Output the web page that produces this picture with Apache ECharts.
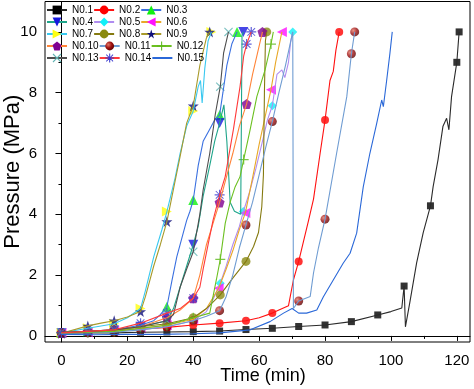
<!DOCTYPE html>
<html><head><meta charset="utf-8">
<script src="https://cdn.jsdelivr.net/npm/echarts@6/dist/echarts.min.js"></script>
<style>html,body{margin:0;padding:0;background:#fff}#c{width:474px;height:389px}</style>
</head><body><div id="c"></div>
<script>
// [time (min), pressure (MPa)]
const names = ['N0.1','N0.2','N0.3','N0.4','N0.5','N0.6','N0.7','N0.8','N0.9','N0.10','N0.11','N0.12','N0.13','N0.14','N0.15'];
const xTicks = [0,20,40,60,80,100,120];
const xMinor = [10,30,50,70,90,110];
const yTicks = [0,2,4,6,8,10];
const yMinor = [1,3,5,7,9];

const n1Mark = [[0,0.08],[8,0.1],[16,0.1],[24,0.12],[32,0.13],[40,0.14],[48,0.16],[56,0.21],[64,0.25],[72,0.31],[80,0.36],[88,0.47],[96,0.69],[104,1.64],[112,4.28],[120,9.0],[120.7,10]];
const n1Line = [[100,0.8],[103.3,0.92],[104.4,0.3],[105.7,1.08],[107.8,2.4],[109.8,3.4],[112.8,4.9],[114.3,5.8],[115.8,6.9],[116.9,7.16],[117.6,6.78],[118.4,7.87]];
const n2Mark = [[0,0.12],[8,0.15],[16,0.18],[24,0.22],[32,0.28],[40,0.36],[48,0.42],[56,0.5],[64,0.75],[72,2.45],[80,7.1],[84.3,10]];
const n2Line = [[60,0.6],[66,0.85],[68.9,0.99],[70.4,1.84],[75,3.8],[76.5,4.5],[78.5,6.0],[81.5,8.4],[82.5,8.7],[83.3,9.4]];
const n3Mark = [[0,0.1],[8,0.15],[16,0.2],[24,0.35],[32,0.96],[40,4.47],[48,7.27],[53.3,10]];
const n3Line = [[28,0.5],[30,0.7],[33.5,1.8],[35,2.6],[36.5,3.2],[38,3.8],[39,4.1],[41.5,5.6],[43,6.4],[45,6.8],[46.5,7.1],[49,8.0],[50.2,8.9],[51.7,9.6]];
const n4Mark = [[0,0.1],[8,0.12],[16,0.18],[24,0.3],[32,0.5],[40,3.0],[48,7.0],[55.2,10]];
const n4Line = [[34,0.9],[36,1.6],[38,2.3],[41.5,3.6],[43,4.6],[45,5.6],[46.5,6.4],[49.3,7.6],[50.2,6.4],[51.2,4.4],[52.5,4.1],[54.4,4.0],[54.8,9.9]];
const n5Mark = [[0,0.1],[8,0.12],[16,0.15],[24,0.22],[32,0.3],[40,0.5],[48.2,1.73],[55.2,4.09],[64,7.57],[70.2,10]];
const n5Line = [[44,0.8],[46,1.2],[50,2.3],[52,3.0],[54,3.6],[57,4.7],[59,5.5],[61,6.4],[62.5,7.1],[65.4,8.6],[66.9,8.75],[67.8,8.5],[68.9,9.0],[69.6,9.7]];
const n6Mark = [[0,0.1],[8,0.12],[16,0.17],[24,0.25],[32,0.35],[40,0.55],[47.7,1.57],[55.8,4.04],[63.6,8.1],[66.9,10]];
const n6Line = [[44,0.9],[50,2.2],[52,2.8],[54,3.5],[58,5.2],[60,6.3],[62,7.3],[65,9.0]];
const n7Mark = [[0,0.1],[8,0.25],[16,0.4],[24,0.9],[32,4.09],[40,7.4],[45.5,10]];
const n7Line = [[20,0.6],[25.5,1.5],[28,2.6],[30.5,3.5],[34.5,5.2],[36,6.0],[38,6.9],[41.5,8.2],[42.2,8.4],[42.7,7.66],[43.5,8.8],[44.5,9.7]];
const n8Mark = [[0,0.1],[8,0.13],[16,0.2],[24,0.3],[32,0.4],[40,0.6],[48.2,1.35],[56,2.45],[62.3,10]];
const n8Line = [[44,0.9],[52,1.9],[58.3,2.94],[59.8,3.4],[60.8,4.25],[61.3,5.3],[61.6,8.0],[61.9,9.7]];
const n9Mark = [[0,0.09],[8,0.33],[16,0.5],[24,0.8],[32,3.76],[40,7.57],[45,10]];
const n9Line = [[12,0.42],[20,0.62],[25.5,1.3],[28,2.3],[30,3.0],[34.5,5.1],[36,5.9],[38,7.0],[42,8.9],[44,9.8]];
const n10Mark = [[0,0.1],[8,0.15],[16,0.2],[24,0.3],[32,0.6],[40,1.24],[48,4.39],[56.2,7.63],[61,10]];
const n10Line = [[36,0.85],[42,2.0],[44,3.0],[46,3.7],[50,5.2],[52,6.0],[54,6.9],[58,8.6],[59.5,9.3]];
const n11Mark = [[0,0.1],[8,0.1],[16,0.12],[24,0.2],[32,0.3],[40,0.5],[48,0.83],[56,3.65],[64,7.05],[72,1.15],[80,3.84],[88,9.28],[89,10]];
const n11Line = [[44,0.65],[50,1.3],[52,2.0],[54,2.9],[58,4.4],[60,5.3],[62,6.2],[66,8.0],[68,8.9],[70.2,10],[70.4,0.9],[75.5,1.3],[76.5,2.07],[78,2.9],[83.5,6.0],[86.6,7.87]];
const n12Mark = [[0,0.1],[8,0.12],[16,0.15],[24,0.25],[32,0.35],[40,0.6],[48.2,2.52],[55.3,5.8],[63.6,9.6]];
const n12Line = [[45,0.75],[47,1.84],[49.7,3.7],[51.2,4.4],[52.7,4.9],[54.2,5.24],[57.3,6.8],[59.3,7.87],[61.8,8.75],[64.3,10]];
const n13Mark = [[0,0.12],[8,0.15],[16,0.2],[24,0.3],[32,0.5],[40,2.77],[48.2,8.2],[50.7,10]];
const n13Line = [[34,0.7],[36,1.6],[38,2.2],[42,4.0],[43,4.8],[45,6.0],[46.7,7.3],[49.2,9.3]];
const n14Mark = [[0,0.1],[8,0.15],[16,0.2],[24,0.42],[32,0.75],[40,1.24],[48,4.64],[56.2,9.6],[57.6,10]];
const n14Line = [[36,0.9],[42,1.6],[43,2.2],[44.5,3.0],[46,3.8],[49.7,5.24],[52.2,6.8],[54.2,8.2],[55.3,9.2]];
const n15Mark = [];
const n15Line = [[0,0.05],[10,0.04],[20,0.05],[30,0.05],[40,0.07],[48,0.1],[57.3,0.2],[63.3,0.47],[67.4,0.75],[70,0.9],[72,0.75],[74.4,0.75],[77.5,0.85],[79.5,1.29],[85.5,2.39],[87.6,2.72],[89.6,3.38],[91.6,4.9],[93.6,6.0],[95.7,7.0],[97.2,7.76],[97.7,7.54],[98.7,8.4],[99.7,9.3],[100.4,10]];

const lines = [n1Line,n2Line,n3Line,n4Line,n5Line,n6Line,n7Line,n8Line,n9Line,n10Line,n11Line,n12Line,n13Line,n14Line,n15Line];
const marks = [n1Mark,n2Mark,n3Mark,n4Mark,n5Mark,n6Mark,n7Mark,n8Mark,n9Mark,n10Mark,n11Mark,n12Mark,n13Mark,n14Mark,n15Mark];

const STAR = 'path://M50,0 L61.8,35.1 L98.1,35.1 L68.8,56.7 L79.4,91 L50,70 L20.6,91 L31.2,56.7 L1.9,35.1 L38.2,35.1 Z';
const PENT = 'path://M50,0 L97.6,34.5 L79.4,90.5 L20.6,90.5 L2.4,34.5 Z';
const CROSS = 'path://M0,9 L9,0 L50,41 L91,0 L100,9 L59,50 L100,91 L91,100 L50,59 L9,100 L0,91 L41,50 Z';
const PLUS = 'path://M44,0 L56,0 L56,44 L100,44 L100,56 L56,56 L56,100 L44,100 L44,56 L0,56 L0,44 L44,44 Z';
const AST = 'path://M44,0 L56,0 L56,44 L100,44 L100,56 L56,56 L56,100 L44,100 L44,56 L0,56 L0,44 L44,44 Z M8,15 L15,8 L50,43 L85,8 L92,15 L57,50 L92,85 L85,92 L50,57 L15,92 L8,85 L43,50 Z';
const BALL = {type:'radial',x:0.35,y:0.35,r:0.75,colorStops:[{offset:0,color:'#e07a6a'},{offset:0.5,color:'#a01010'},{offset:1,color:'#500000'}]};

const lineColors = ['#2a2a2a','#ff1010','#3a70e0','#1fa58a','#b08cf0','#e8a828','#38c8f0','#857a10','#a89a2a','#ff8438','#6f9cd2','#6cc020','#4e4e4e','#ff3a3a','#2a68d8'];
const markColors = ['#000000','#ff0000','#10f010','#1818e0','#10f0f8','#ff10ff','#ffff10','#8a8a10','#10107a','#800090',BALL,'#5cb81c','#60b4b4','#3a3ad0','#2a68d8'];
const symbols = ['rect','circle','triangle','triangle','diamond','triangle','triangle','circle',STAR,PENT,'circle',PLUS,CROSS,AST,'none'];
const rotates = [0,0,0,180,0,90,-90,0,0,0,0,0,0,0,0];
const sizes = [7,8,10,10,9,10,10,9,11,10,9,10,9,10,0];

const series = [];
names.forEach((nm,i)=>{
  const pts = lines[i].concat(marks[i]).sort((a,b)=>a[0]-b[0]);
  series.push({type:'line',name:nm,data:pts,symbol:symbols[i],symbolSize:sizes[i],symbolRotate:rotates[i],
    showSymbol:false,lineStyle:{color:lineColors[i],width:1.1},itemStyle:{color:markColors[i]},silent:true,animation:false});
  if (marks[i].length) series.push({type:'scatter',name:nm,data:marks[i],symbol:symbols[i],symbolSize:sizes[i],symbolRotate:rotates[i],
    itemStyle:{color:markColors[i]},silent:true,animation:false});
});

const font = 'Liberation Sans';
const legends = [0,1,2,3,4].map(r=>({
  data: names.slice(r*3,r*3+3).map(n=> n==='N0.15' ? {name:n,itemStyle:{opacity:0}} : {name:n}),
  left:46, top:5+12*r, orient:'horizontal', itemGap:0, itemWidth:20, itemHeight:11, padding:0,
  selectedMode:false, textStyle:{fontSize:10,fontFamily:font,color:'#000'}
}));

const chart = echarts.init(document.getElementById('c'));
chart.setOption({
  animation:false,
  backgroundColor:'#fff',
  grid:{left:45,right:4,top:1.5,bottom:47,outerBoundsMode:'none',containLabel:false,show:true,borderColor:'#000',borderWidth:1,backgroundColor:'transparent'},
  legend: legends,
  xAxis:[
    {type:'value',min:-5,max:124,position:'bottom',
     axisLine:{show:true,lineStyle:{color:'#000',width:1}},
     axisTick:{show:true,customValues:xTicks,length:5,lineStyle:{color:'#000'}},
     axisLabel:{customValues:xTicks,fontSize:15,margin:11,color:'#000',fontFamily:font},
     splitLine:{show:false},
     name:'Time (min)',nameLocation:'middle',nameGap:25,nameMoveOverlap:false,
     nameTextStyle:{fontSize:18,color:'#000',fontFamily:font,padding:[0,0,0,11]}},
    {type:'value',min:-5,max:124,position:'bottom',
     axisLine:{show:false},axisTick:{show:true,customValues:xMinor,length:3,lineStyle:{color:'#000'}},
     axisLabel:{show:false},splitLine:{show:false}}
  ],
  yAxis:[
    {type:'value',min:-0.2,max:11,position:'left',
     axisLine:{show:true,lineStyle:{color:'#000',width:1}},
     axisTick:{show:true,customValues:yTicks,length:6,lineStyle:{color:'#000'}},
     axisLabel:{customValues:yTicks,fontSize:15,margin:8,color:'#000',fontFamily:font},
     splitLine:{show:false},
     name:'Pressure (MPa)',nameLocation:'middle',nameGap:21,nameRotate:90,nameMoveOverlap:false,
     nameTextStyle:{fontSize:22,color:'#000',fontFamily:font}},
    {type:'value',min:-0.2,max:11,position:'left',
     axisLine:{show:false},axisTick:{show:true,customValues:yMinor,length:3,lineStyle:{color:'#000'}},
     axisLabel:{show:false},splitLine:{show:false}}
  ],
  series: series
});
</script></body></html>
